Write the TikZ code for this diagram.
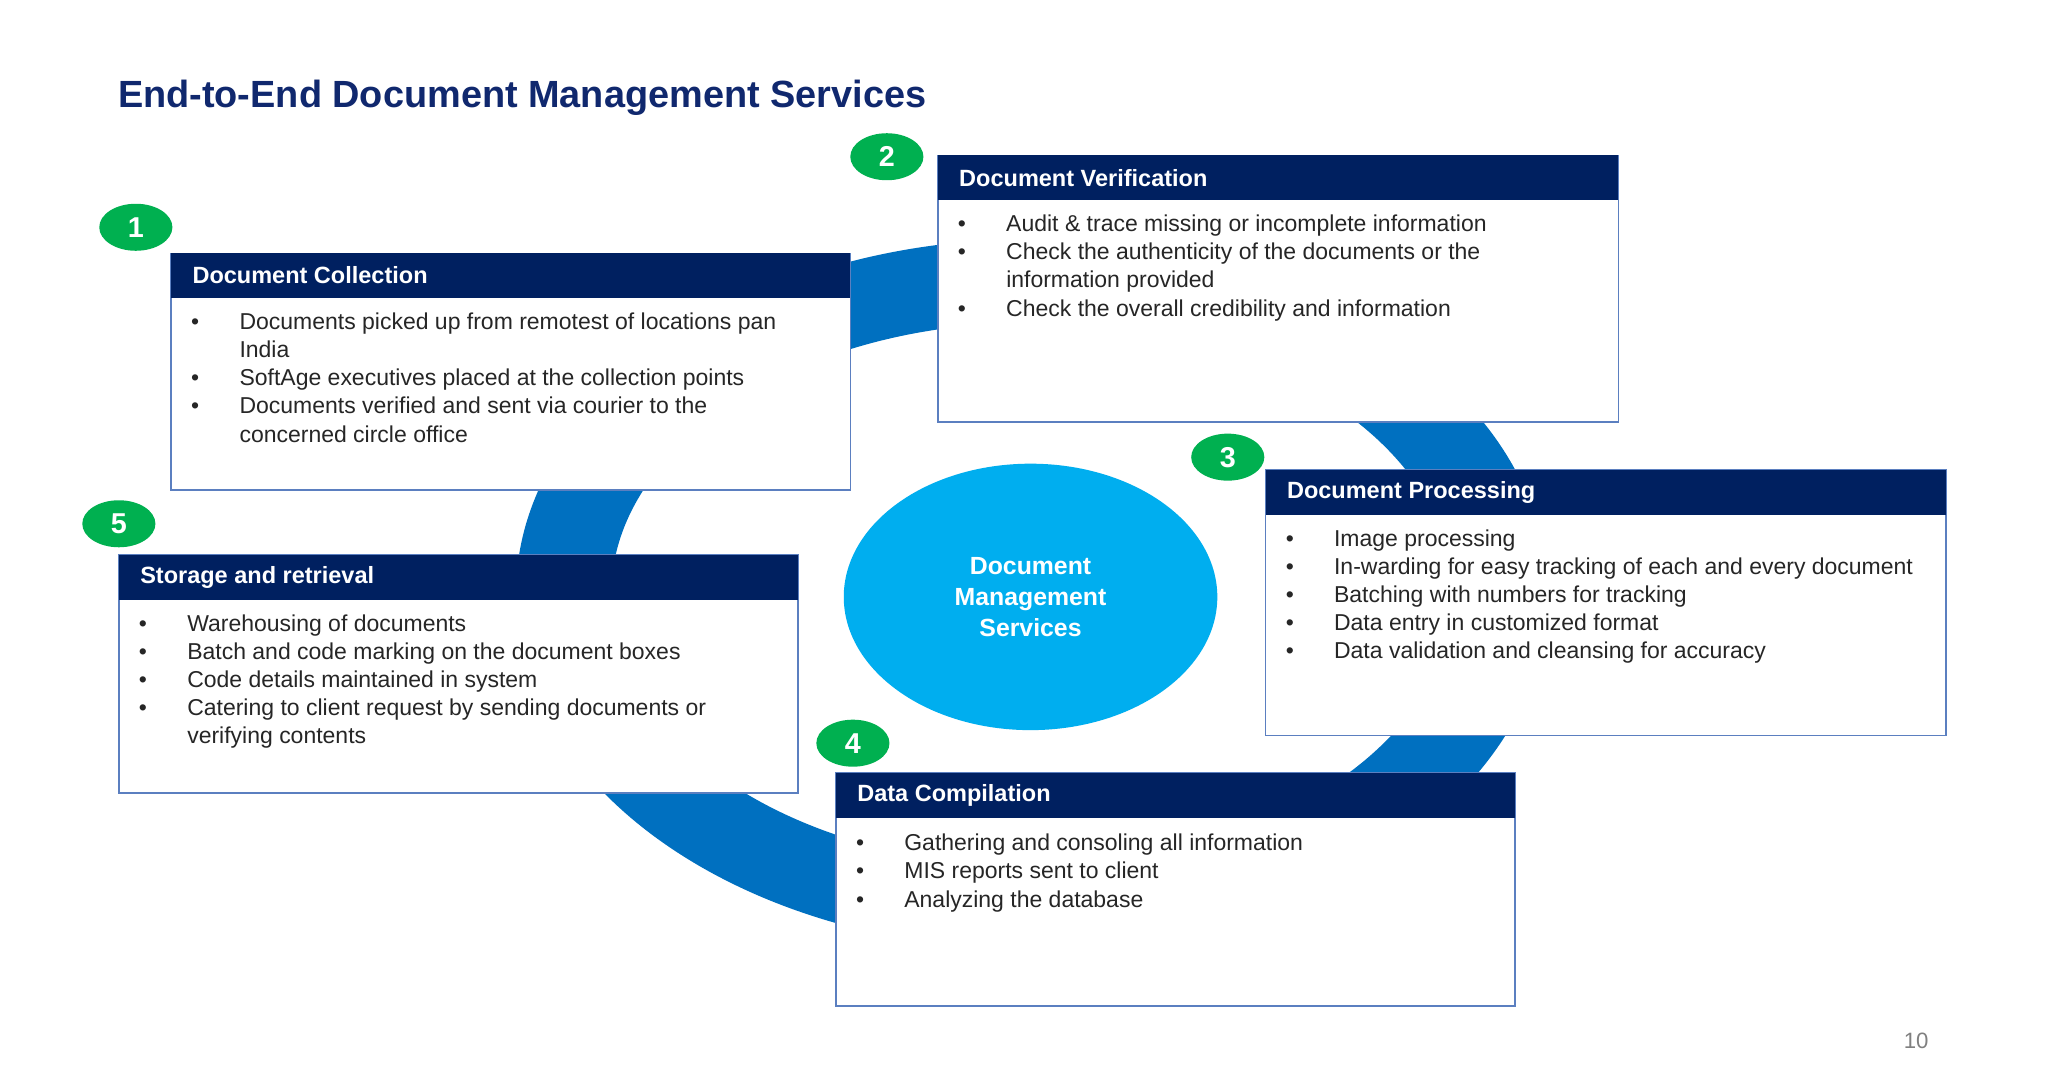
\documentclass[tikz,border=0pt]{standalone}
\usepackage{fontspec}
\setmainfont{Liberation Sans}
\usepackage{array}
\usetikzlibrary{shapes.geometric}
\begin{document}
\definecolor{navy}{HTML}{002060}
\definecolor{titleblue}{HTML}{10286E}
\definecolor{ringblue}{HTML}{0070C0}
\definecolor{cyanb}{HTML}{00AEEF}
\definecolor{greenb}{HTML}{00B050}
\definecolor{boxline}{HTML}{5B7FC0}
\begin{tikzpicture}[x=0.5pt,y=-0.5pt,
  body/.style={draw=boxline,line width=0.6pt,fill=white},
  head/.style={fill=navy},
  htext/.style={anchor=west,text=white,font=\fontsize{9}{11}\selectfont\bfseries,inner sep=0},
  btext/.style={anchor=north west,inner sep=0,text=black!85,font=\fontsize{8.8}{10.75}\selectfont},
  badge/.style={ellipse,fill=greenb,minimum width=28pt,minimum height=18pt,inner sep=0,text=white,font=\fontsize{11}{12}\selectfont\bfseries}]
\useasboundingbox (0,0) rectangle (1568,835);
\fill[white] (0,0) rectangle (1568,835);
\node[anchor=west,inner sep=0,text=titleblue,font=\fontsize{14.5}{16}\selectfont\bfseries] (title) at (90,75) {End-to-End Document Management Services};
% ring
\coordinate (c) at (790,455);
\fill[ringblue,even odd rule] (c) ellipse [x radius=395,y radius=272] (c) ellipse [x radius=322,y radius=208];
\newcommand{\mybox}[6]{%
  \draw[body] (#1,#2) rectangle (#3,#4);
  \fill[head] (#1,#2) rectangle (#3,#2+34);
  \node[htext] (#5h) at (#1+16,#2+17) {#6};
}
\mybox{131}{194}{651}{375}{b1}{Document Collection}
\mybox{718}{119}{1239}{323}{b2}{Document Verification}
\mybox{969}{360}{1490}{563}{b3}{Document Processing}
\mybox{640}{592}{1160}{770}{b4}{Data Compilation}
\mybox{91}{425}{611}{607}{b5}{Storage and retrieval}
\newcommand{\blist}[4]{\node[btext] (#3) at (#1,#2) {\begin{tabular}{@{}p{18.5pt}@{}l@{}}#4\end{tabular}};}
\blist{146}{237}{t1}{\textbullet & Documents picked up from remotest of locations pan\\ & India\\ \textbullet & SoftAge executives placed at the collection points\\ \textbullet & Documents verified and sent via courier to the\\ & concerned circle office}
\blist{733}{162}{t2}{\textbullet & Audit \& trace missing or incomplete information\\ \textbullet & Check the authenticity of the documents or the\\ & information provided\\ \textbullet & Check the overall credibility and information}
\blist{984}{403}{t3}{\textbullet & Image processing\\ \textbullet & In-warding for easy tracking of each and every document\\ \textbullet & Batching with numbers for tracking\\ \textbullet & Data entry in customized format\\ \textbullet & Data validation and cleansing for accuracy}
\blist{655}{636}{t4}{\textbullet & Gathering and consoling all information\\ \textbullet & MIS reports sent to client\\ \textbullet & Analyzing the database}
\blist{106}{468}{t5}{\textbullet & Warehousing of documents\\ \textbullet & Batch and code marking on the document boxes\\ \textbullet & Code details maintained in system\\ \textbullet & Catering to client request by sending documents or\\ & verifying contents}
% center
\node[ellipse,fill=cyanb,minimum width=143pt,minimum height=102pt,inner sep=0,text=white,align=center,font=\fontsize{9.5}{11.8}\selectfont\bfseries] (center) at (789,457) {Document\\Management\\Services};
% badges
\node[badge] (n1) at (104,174) {1};
\node[badge] (n2) at (679,120) {2};
\node[badge] (n3) at (940,350) {3};
\node[badge] (n4) at (653,569) {4};
\node[badge] (n5) at (91,401) {5};
\node[text=black!50,font=\fontsize{8.5}{10}\selectfont,inner sep=0] (pg) at (1467,797) {10};
\end{tikzpicture}
\end{document}
